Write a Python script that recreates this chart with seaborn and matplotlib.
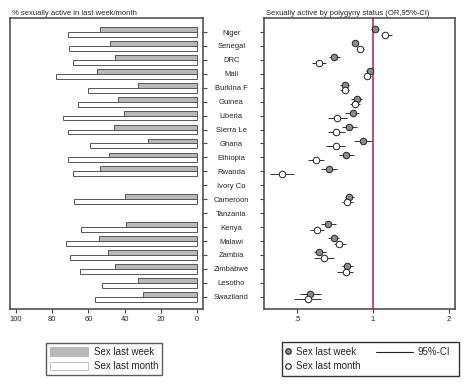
import numpy as np
import pandas as pd
import seaborn as sns
import matplotlib.pyplot as plt
from matplotlib.patches import Patch, Rectangle
from matplotlib.lines import Line2D
from matplotlib.ticker import NullLocator, FixedLocator

nan = np.nan
countries = ['Niger', 'Senegal', 'DRC', 'Mali', 'Burkina F', 'Guinea', 'Liberia',
             'Sierra Le', 'Ghana', 'Ethiopia', 'Rwanda', 'Ivory Co', 'Cameroon',
             'Tanzania', 'Kenya', 'Malawi', 'Zambia', 'Zimbabwe', 'Lesotho', 'Swaziland']

# % sexually active
week_pct = [53.6, 47.9, 45.3, 55.4, 32.8, 43.5, 40.2, 45.7, 27.2, 48.6,
            53.6, nan, 39.8, nan, 39.4, 54.1, 49.3, 45.3, 32.4, 29.8]
month_pct = [71.3, 70.9, 68.7, 77.9, 60.4, 65.9, 74.2, 71.3, 58.9, 71.4,
             68.7, nan, 68.0, nan, 63.9, 72.5, 70.3, 64.6, 52.3, 56.2]

# odds ratios by polygyny status with 95% CI
or_week = [1.02, 0.85, 0.70, 0.97, 0.77, 0.86, 0.83, 0.80, 0.91, 0.78,
           0.67, nan, 0.80, nan, 0.66, 0.70, 0.61, 0.79, nan, 0.56]
or_week_lo = [0.98, 0.83, 0.67, 0.94, 0.74, 0.82, 0.77, 0.75, 0.84, 0.73,
              0.62, nan, 0.77, nan, 0.62, 0.66, 0.58, 0.75, nan, 0.51]
or_week_hi = [1.06, 0.87, 0.74, 1.00, 0.80, 0.90, 0.88, 0.86, 0.99, 0.84,
              0.72, nan, 0.84, nan, 0.71, 0.73, 0.65, 0.83, nan, 0.62]
or_month = [1.12, 0.89, 0.61, 0.95, 0.77, 0.85, 0.72, 0.71, 0.71, 0.595,
            0.435, nan, 0.79, nan, 0.60, 0.73, 0.64, 0.78, nan, 0.55]
or_month_lo = [1.08, 0.86, 0.57, 0.93, 0.74, 0.81, 0.66, 0.66, 0.65, 0.55,
               0.39, nan, 0.75, nan, 0.56, 0.70, 0.58, 0.72, nan, 0.485]
or_month_hi = [1.19, 0.92, 0.65, 0.98, 0.80, 0.89, 0.79, 0.77, 0.77, 0.64,
               0.485, nan, 0.835, nan, 0.64, 0.78, 0.70, 0.83, nan, 0.62]

sns.set_theme(style='white')
plt.rcParams['font.family'] = ['Liberation Sans', 'DejaVu Sans']
edge = '#444444'

fig = plt.figure(figsize=(4.74, 3.86), dpi=100)
ax1 = fig.add_axes([10/474, 1-309/386, 193/474, 291/386])
ax2 = fig.add_axes([264/474, 1-309/386, 191/474, 291/386])

# ---- left panel: bars
df = pd.DataFrame({
    'country': countries * 2,
    'pct': week_pct + month_pct,
    'measure': ['Sex last week'] * len(countries) + ['Sex last month'] * len(countries),
})
sns.barplot(data=df, y='country', x='pct', hue='measure', order=countries,
            palette={'Sex last week': '#b9b9b9', 'Sex last month': 'white'},
            width=0.7, orient='h', ax=ax1, legend=False, linewidth=0.7,
            edgecolor='#555555')
ax1.set_xlim(103.3, -3.3)
ax1.set_ylim(19.88, -1.006)
ax1.set_xticks([100, 80, 60, 40, 20, 0])
ax1.set_xticklabels(['100', '80', '60', '40', '20', '0'])
ax1.yaxis.tick_right()
ax1.tick_params(axis='y', length=3, width=0.8, color=edge, labelright=False, right=True, left=False)
ax1.tick_params(axis='x', length=3, width=0.8, color=edge, labelsize=5.5, pad=2, bottom=True)
ax1.set_xlabel('')
ax1.set_ylabel('')

# ---- right panel: odds ratios
pos = np.arange(len(countries))
ax2.axvline(1, color='#c0506e', lw=1.4, zorder=1)
ax2.hlines(pos - 0.19, or_week_lo, or_week_hi, color='#333333', lw=0.7, zorder=2)
ax2.hlines(pos + 0.19, or_month_lo, or_month_hi, color='#333333', lw=0.7, zorder=2)
sns.scatterplot(x=or_week, y=pos - 0.19, ax=ax2, s=22, color='#8c8c8c',
                edgecolor='#222222', linewidth=0.7, zorder=3)
sns.scatterplot(x=or_month, y=pos + 0.19, ax=ax2, s=22, color='white',
                edgecolor='#222222', linewidth=0.7, zorder=3)
ax2.set_xscale('log')
ax2.set_xlim(0.368, 2.12)
ax2.xaxis.set_major_locator(FixedLocator([0.5, 1, 2]))
ax2.xaxis.set_minor_locator(NullLocator())
ax2.set_xticklabels(['.5', '1', '2'])
ax2.set_ylim(19.88, -1.006)
ax2.set_yticks(pos)
ax2.set_yticklabels(countries)
for lab in ax2.get_yticklabels():
    lab.set_ha('center')
ax2.tick_params(axis='y', length=3, width=0.8, color=edge, labelsize=5.5, pad=20.5, left=True)
ax2.tick_params(axis='x', length=3, width=0.8, color=edge, labelsize=5.5, pad=2, bottom=True)

for ax in (ax1, ax2):
    for sp in ax.spines.values():
        sp.set_color(edge)
        sp.set_linewidth(1.1)

fig.text(12/474, 1-13.5/386, '% sexually active in last week/month', fontsize=5.5, va='center', ha='left')
fig.text(266/474, 1-13.5/386, 'Sexually active by polygyny status (OR,95%-CI)', fontsize=5.5, va='center', ha='left')

# ---- legends
bar_handles = [Patch(facecolor='#b9b9b9', edgecolor='#aaaaaa', lw=0.5),
               Patch(facecolor='white', edgecolor='#aaaaaa', lw=0.5)]
leg1 = fig.legend(bar_handles, ['Sex last week', 'Sex last month'], loc='center',
                  bbox_to_anchor=(104/474, 1-359/386), fontsize=7, frameon=True,
                  fancybox=False, handlelength=3.9, handleheight=1.0,
                  handletextpad=0.6, labelspacing=0.45, borderpad=0.35)
leg1.get_frame().set_edgecolor('#333333')
leg1.get_frame().set_linewidth(1.0)

fig.add_artist(Rectangle((282/474, 1-376/386), 177/474, 34/386, transform=fig.transFigure,
                         fill=False, ec='#333333', lw=1.0))
mk_handles = [Line2D([], [], ls='', marker='o', ms=4, mfc='#8c8c8c', mec='#222222', mew=0.8),
              Line2D([], [], ls='', marker='o', ms=4, mfc='white', mec='#222222', mew=0.8)]
fig.legend(mk_handles, ['Sex last week', 'Sex last month'], loc='center left',
           bbox_to_anchor=(284/474, 1-359/386), fontsize=7, frameon=False,
           handlelength=0.8, handletextpad=0.4, labelspacing=0.45, borderpad=0, borderaxespad=0)
fig.legend([Line2D([], [], color='#222222', lw=0.8)], ['95%-CI'], loc='center left',
           bbox_to_anchor=(376/474, 1-352/386), fontsize=7, frameon=False,
           handlelength=3.8, handletextpad=0.5, borderpad=0, borderaxespad=0)

fig.savefig('out.png', dpi=100)
